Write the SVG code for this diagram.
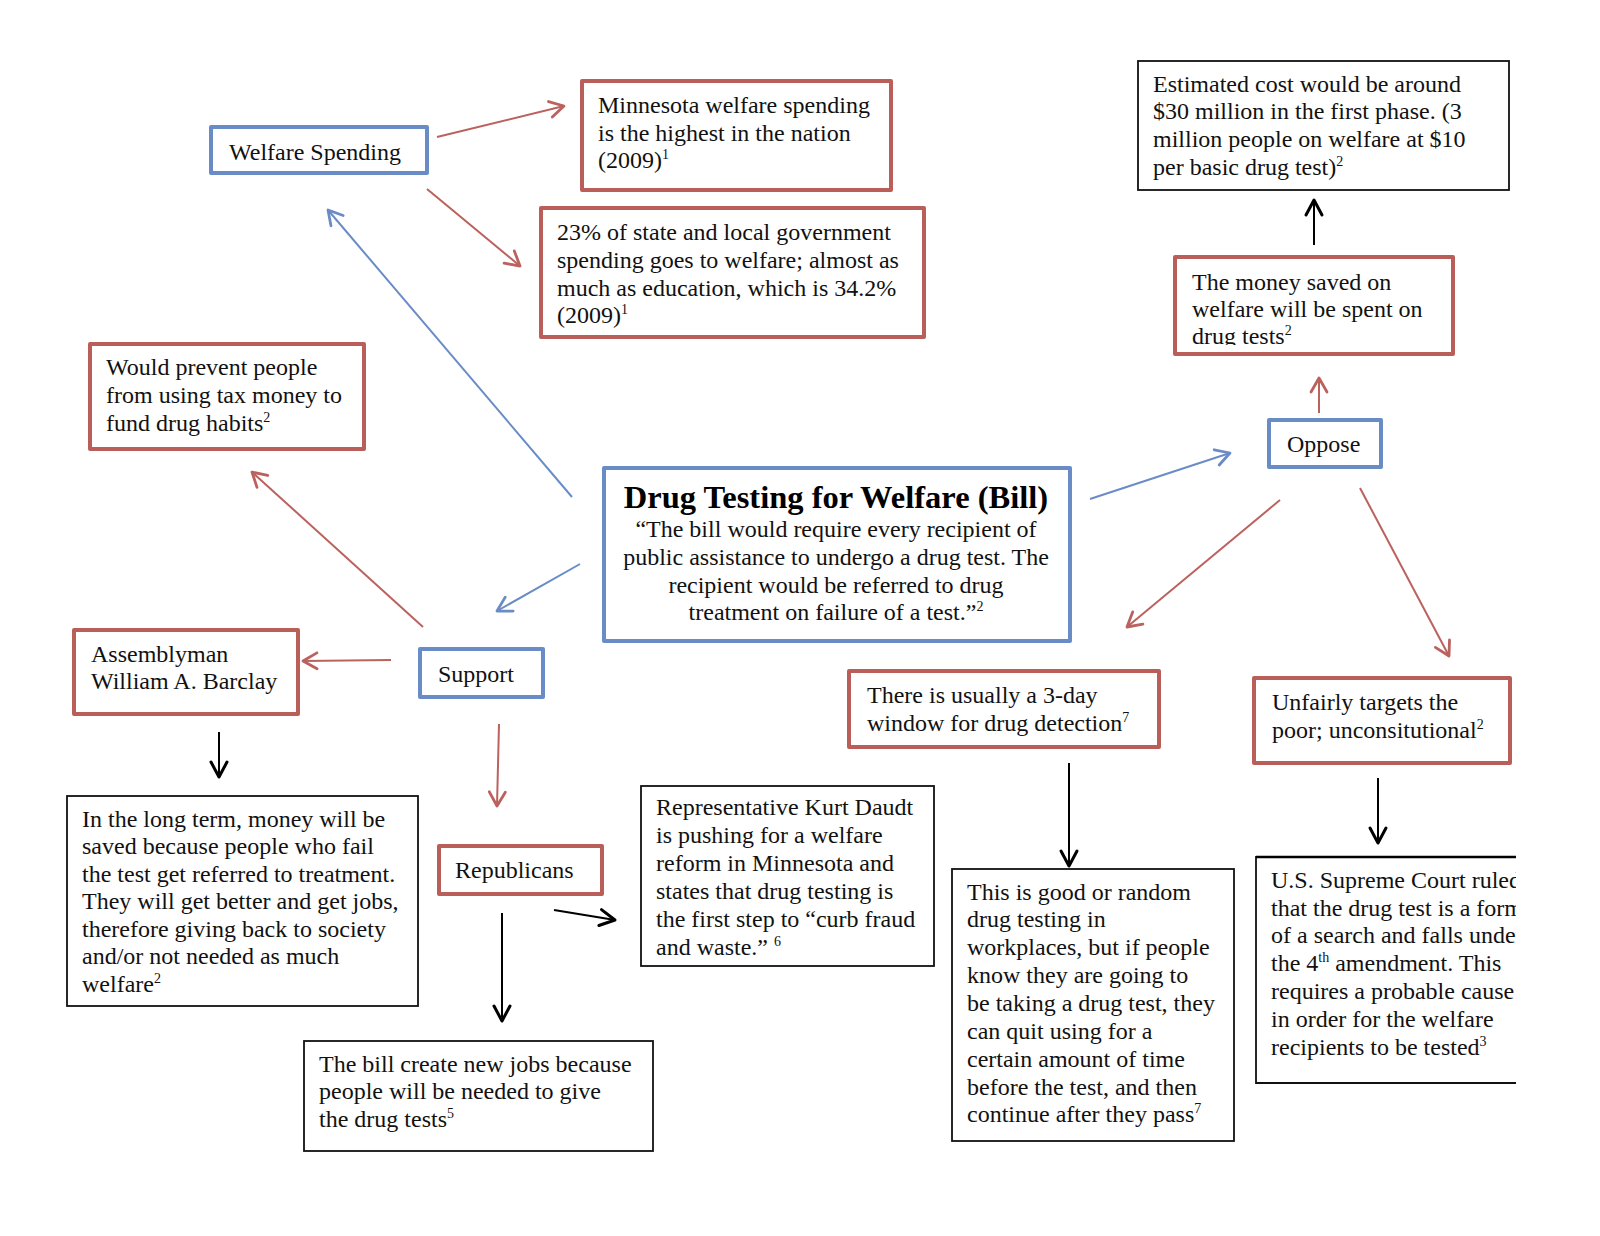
<svg xmlns="http://www.w3.org/2000/svg" width="1600" height="1236" viewBox="0 0 1600 1236">
<style>
.t{font-family:'Liberation Serif','Times New Roman',serif;font-size:24px;fill:#111}
.ttl{font-family:'Liberation Serif','Times New Roman',serif;font-size:32.5px;font-weight:bold;fill:#000}
.s{font-size:14px}
.red{fill:#fff;stroke:#ba5e5a;stroke-width:4;stroke-linejoin:round}
.blue{fill:#fff;stroke:#6a8cc6;stroke-width:4;stroke-linejoin:round}
.blk{fill:#fff;stroke:#111;stroke-width:1.8}
.cr{stroke:#bb625e;stroke-width:2;fill:none;marker-end:url(#ar)}
.cb{stroke:#6a8cc6;stroke-width:2;fill:none;marker-end:url(#ab)}
.ck{stroke:#000;stroke-width:2;fill:none;marker-end:url(#ak)}
</style>
<defs>
<marker id="ar" viewBox="-18 -11 22 22" refX="0" refY="0" markerWidth="22" markerHeight="22" markerUnits="userSpaceOnUse" orient="auto"><path d="M-14,-8 L0,0 L-14,8" fill="none" stroke="#bb625e" stroke-width="2.8" stroke-linecap="round" stroke-linejoin="round"/></marker>
<marker id="ab" viewBox="-18 -11 22 22" refX="0" refY="0" markerWidth="22" markerHeight="22" markerUnits="userSpaceOnUse" orient="auto"><path d="M-14,-8 L0,0 L-14,8" fill="none" stroke="#6a8cc6" stroke-width="2.8" stroke-linecap="round" stroke-linejoin="round"/></marker>
<marker id="ak" viewBox="-18 -11 22 22" refX="0" refY="0" markerWidth="22" markerHeight="22" markerUnits="userSpaceOnUse" orient="auto"><path d="M-15,-8 L0,0 L-15,8" fill="none" stroke="#000" stroke-width="3" stroke-linecap="round" stroke-linejoin="round"/></marker>
<clipPath id="clipMoney"><rect x="1175" y="257" width="278" height="88"/></clipPath>
<clipPath id="clipCourt"><rect x="1250" y="850" width="266" height="240"/></clipPath>
</defs>
<rect width="1600" height="1236" fill="#fff"/>

<g id="connectors">
<line class="cr" x1="437" y1="137" x2="564" y2="106"/>
<line class="cr" x1="427" y1="189" x2="520" y2="266"/>
<line class="cb" x1="572" y1="497" x2="328" y2="210"/>
<line class="cb" x1="580" y1="564" x2="497" y2="611"/>
<line class="cb" x1="1090" y1="499" x2="1230" y2="453"/>
<line class="cr" x1="1319" y1="413" x2="1319" y2="378"/>
<line class="ck" x1="1314" y1="245" x2="1314" y2="200"/>
<line class="cr" x1="1280" y1="500" x2="1127" y2="627"/>
<line class="cr" x1="1360" y1="488" x2="1449" y2="656"/>
<line class="ck" x1="1069" y1="763" x2="1069" y2="866"/>
<line class="ck" x1="1378" y1="778" x2="1378" y2="843"/>
<line class="cr" x1="423" y1="627" x2="252" y2="472"/>
<line class="cr" x1="391" y1="660" x2="303" y2="661"/>
<line class="ck" x1="219" y1="732" x2="219" y2="777"/>
<line class="cr" x1="499" y1="724" x2="497" y2="806"/>
<line class="ck" x1="554" y1="910" x2="615" y2="920"/>
<line class="ck" x1="502" y1="913" x2="502" y2="1021"/>
</g>

<g id="welfare-spending">
<rect class="blue" x="211" y="127" width="216" height="46"/>
<text class="t" x="229" y="160">Welfare Spending</text>
</g>

<g id="minnesota">
<rect class="red" x="582" y="81" width="309" height="109"/>
<text class="t" x="598" y="113">Minnesota welfare spending</text>
<text class="t" x="598" y="141">is the highest in the nation</text>
<text class="t" x="598" y="168">(2009)<tspan class="s" dy="-9">1</tspan></text>
</g>

<g id="percent">
<rect class="red" x="541" y="208" width="383" height="129"/>
<text class="t" x="557" y="240">23% of state and local government</text>
<text class="t" x="557" y="268">spending goes to welfare; almost as</text>
<text class="t" x="557" y="296">much as education, which is 34.2%</text>
<text class="t" x="557" y="323">(2009)<tspan class="s" dy="-9">1</tspan></text>
</g>

<g id="estimated-cost">
<rect class="blk" x="1138" y="61" width="371" height="129"/>
<text class="t" x="1153" y="92">Estimated cost would be around</text>
<text class="t" x="1153" y="119">$30 million in the first phase. (3</text>
<text class="t" x="1153" y="147">million people on welfare at $10</text>
<text class="t" x="1153" y="175">per basic drug test)<tspan class="s" dy="-9">2</tspan></text>
</g>

<g id="money-saved">
<rect class="red" x="1175" y="257" width="278" height="97"/>
<g clip-path="url(#clipMoney)">
<text class="t" x="1192" y="290">The money saved on</text>
<text class="t" x="1192" y="317">welfare will be spent on</text>
<text class="t" x="1192" y="344">drug tests<tspan class="s" dy="-9">2</tspan></text>
</g>
</g>

<g id="oppose">
<rect class="blue" x="1269" y="420" width="112" height="47"/>
<text class="t" x="1287" y="452">Oppose</text>
</g>

<g id="bill">
<rect class="blue" x="604" y="468" width="466" height="173"/>
<text class="ttl" x="836" y="508" text-anchor="middle">Drug Testing for Welfare (Bill)</text>
<text class="t" x="836" y="537" text-anchor="middle">“The bill would require every recipient of</text>
<text class="t" x="836" y="565" text-anchor="middle">public assistance to undergo a drug test. The</text>
<text class="t" x="836" y="593" text-anchor="middle">recipient would be referred to drug</text>
<text class="t" x="836" y="620" text-anchor="middle">treatment on failure of a test.”<tspan class="s" dy="-9">2</tspan></text>
</g>

<g id="prevent">
<rect class="red" x="90" y="344" width="274" height="105"/>
<text class="t" x="106" y="375">Would prevent people</text>
<text class="t" x="106" y="403">from using tax money to</text>
<text class="t" x="106" y="431">fund drug habits<tspan class="s" dy="-9">2</tspan></text>
</g>

<g id="support">
<rect class="blue" x="420" y="649" width="123" height="48"/>
<text class="t" x="438" y="682">Support</text>
</g>

<g id="assemblyman">
<rect class="red" x="74" y="630" width="224" height="84"/>
<text class="t" x="91" y="662">Assemblyman</text>
<text class="t" x="91" y="689">William A. Barclay</text>
</g>

<g id="long-term">
<rect class="blk" x="67" y="796" width="351" height="210"/>
<text class="t" x="82" y="827">In the long term, money will be</text>
<text class="t" x="82" y="854">saved because people who fail</text>
<text class="t" x="82" y="882">the test get referred to treatment.</text>
<text class="t" x="82" y="909">They will get better and get jobs,</text>
<text class="t" x="82" y="937">therefore giving back to society</text>
<text class="t" x="82" y="964">and/or not needed as much</text>
<text class="t" x="82" y="992">welfare<tspan class="s" dy="-9">2</tspan></text>
</g>

<g id="republicans">
<rect class="red" x="439" y="846" width="163" height="48"/>
<text class="t" x="455" y="878">Republicans</text>
</g>

<g id="representative">
<rect class="blk" x="641" y="786" width="293" height="180"/>
<text class="t" x="656" y="815">Representative Kurt Daudt</text>
<text class="t" x="656" y="843">is pushing for a welfare</text>
<text class="t" x="656" y="871">reform in Minnesota and</text>
<text class="t" x="656" y="899">states that drug testing is</text>
<text class="t" x="656" y="927">the first step to “curb fraud</text>
<text class="t" x="656" y="955">and waste.” <tspan class="s" dy="-9">6</tspan></text>
</g>

<g id="new-jobs">
<rect class="blk" x="304" y="1041" width="349" height="110"/>
<text class="t" x="319" y="1072">The bill create new jobs because</text>
<text class="t" x="319" y="1099">people will be needed to give</text>
<text class="t" x="319" y="1127">the drug tests<tspan class="s" dy="-9">5</tspan></text>
</g>

<g id="three-day">
<rect class="red" x="849" y="671" width="310" height="76"/>
<text class="t" x="867" y="703">There is usually a 3-day</text>
<text class="t" x="867" y="731">window for drug detection<tspan class="s" dy="-9">7</tspan></text>
</g>

<g id="workplace">
<rect class="blk" x="952" y="869" width="282" height="272"/>
<text class="t" x="967" y="900">This is good or random</text>
<text class="t" x="967" y="927">drug testing in</text>
<text class="t" x="967" y="955">workplaces, but if people</text>
<text class="t" x="967" y="983">know they are going to</text>
<text class="t" x="967" y="1011">be taking a drug test, they</text>
<text class="t" x="967" y="1039">can quit using for a</text>
<text class="t" x="967" y="1067">certain amount of time</text>
<text class="t" x="967" y="1095">before the test, and then</text>
<text class="t" x="967" y="1122">continue after they pass<tspan class="s" dy="-9">7</tspan></text>
</g>

<g id="unfairly">
<rect class="red" x="1254" y="678" width="256" height="85"/>
<text class="t" x="1272" y="710">Unfairly targets the</text>
<text class="t" x="1272" y="738">poor; unconsitutional<tspan class="s" dy="-9">2</tspan></text>
</g>

<g id="supreme-court">
<path d="M1516,857 H1256 V1083 H1516" fill="#fff" stroke="#111" stroke-width="1.8"/>
<line x1="1256" y1="857" x2="1516" y2="857" stroke="#000" stroke-width="2.5"/>
<g clip-path="url(#clipCourt)">
<text class="t" x="1271" y="888">U.S. Supreme Court ruled</text>
<text class="t" x="1271" y="916">that the drug test is a form</text>
<text class="t" x="1271" y="943">of a search and falls under</text>
<text class="t" x="1271" y="971">the 4<tspan class="s" dy="-9">th</tspan><tspan dy="9"> amendment. This</tspan></text>
<text class="t" x="1271" y="999">requires a probable cause</text>
<text class="t" x="1271" y="1027">in order for the welfare</text>
<text class="t" x="1271" y="1055">recipients to be tested<tspan class="s" dy="-9">3</tspan></text>
</g>
</g>
</svg>
